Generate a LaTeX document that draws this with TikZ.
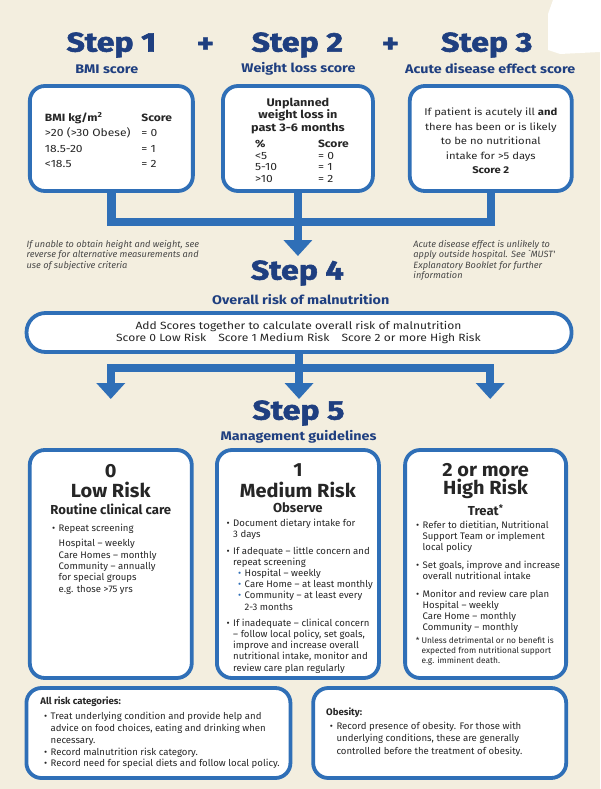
\documentclass[tikz,border=0pt]{standalone}
\usepackage{fontspec}
\setmainfont{Fira Sans}[FakeStretch=1.148]
\newfontfamily\cnd{Fira Sans}[FakeStretch=1.01]
\newfontfamily\rsk{Fira Sans}[FakeStretch=1.05]
\newfontfamily\hvy{Fira Sans}[FakeStretch=1.19, BoldFeatures={FakeBold=2}]
\usetikzlibrary{arrows.meta}
\definecolor{bg}{HTML}{F3EEDF}
\definecolor{mblue}{HTML}{2F6FB7}
\definecolor{navy}{HTML}{1F3F80}
\definecolor{txt}{HTML}{262626}
\pgfdeclarelayer{bottom}
\pgfdeclarelayer{background}
\pgfsetlayers{bottom,background,main}
\tikzset{
  steptitle/.style={font=\hvy\bfseries\fontsize{27}{27}\selectfont, text=navy, inner sep=0pt},
  stepsub/.style={font=\bfseries\fontsize{12.5}{13}\selectfont, text=navy, inner sep=0pt},
  rbox/.style={draw=mblue, line width=3.8pt, fill=white, rounded corners=15pt, inner sep=0pt},
  pillbox/.style={draw=mblue, line width=3.8pt, fill=white, rounded corners=19pt, inner sep=0pt},
  bus/.style={draw=mblue, line width=8.5pt, line join=miter},
  busarrow/.style={bus, -{Triangle[width=28pt,length=16pt]}},
  body/.style={text=txt, inner sep=0pt, align=left},
  note/.style={text=txt!85, inner sep=0pt, align=left, font=\cnd\itshape\fontsize{9.1}{10.4}\selectfont},
  risknum/.style={font=\rsk\bfseries\fontsize{19}{19}\selectfont, text=txt, inner sep=0pt},
  risksub/.style={font=\cnd\bfseries\fontsize{13}{13}\selectfont, text=txt, inner sep=0pt},
}
\newcommand{\bul}{\llap{\textbullet\hspace{3.5pt}}}
\newcommand{\sbul}{\hspace{11.5pt}\llap{\textcolor{mblue}{\textbullet}\hspace{3.5pt}}}
\begin{document}
\begin{tikzpicture}[x=1.148pt,y=-1pt]
\begin{pgfonlayer}{bottom}
\fill[bg] (0pt,0pt) rectangle (600pt,-789pt);
\end{pgfonlayer}
\useasboundingbox (0pt,0pt) rectangle (600pt,-789pt);
\fill[white] (553pt,0pt) -- (600pt,0pt) -- (600pt,-52pt) -- (560pt,-54pt) -- (548pt,-50pt) -- (548pt,-14pt) -- cycle;

% headings
\node[steptitle] (s1) at (97,45) {Step 1};
\node[steptitle] (p1) at (179,45) {+};
\node[steptitle] (s2) at (259,45) {Step 2};
\node[steptitle] (p2) at (340,45) {+};
\node[steptitle] (s3) at (424,45) {Step 3};
\node[stepsub] (s1s) at (93,69) {BMI score};
\node[stepsub] (s2s) at (260,69) {Weight loss score};
\node[stepsub] (s3s) at (427,69) {Acute disease effect score};

% step 1-3 boxes
\node[rbox, minimum width=163pt, minimum height=105pt] (b1) at (97,138.5) {};
\node[rbox, minimum width=150pt, minimum height=105pt] (b2) at (259.5,138.5) {};
\node[rbox, minimum width=162pt, minimum height=105pt] (b3) at (427.5,138.5) {};

\node[body, anchor=north west, font=\fontsize{10.5}{15.5}\selectfont] (b1t) at (39,110)
 {\begin{tabular}{@{}p{96.4pt}@{}l@{}}
  \textbf{BMI kg/m\textsuperscript{2}} & \textbf{Score}\\
  >20 (>30 Obese) & = 0\\
  18.5-20 & = 1\\
  <18.5 & = 2
  \end{tabular}};
\node[body, align=center, font=\bfseries\fontsize{11}{12.5}\selectfont] (b2h) at (259.5,116)
 {Unplanned\\weight loss in\\past 3-6 months};
\node[body, anchor=north west, font=\fontsize{10.5}{11.7}\selectfont] (b2t) at (222,139)
 {\begin{tabular}{@{}p{63pt}@{}l@{}}
  \textbf{\%} & \textbf{Score}\\
  <5 & = 0\\
  5-10 & = 1\\
  >10 & = 2
  \end{tabular}};
\node[body, align=center, font=\fontsize{9.8}{14.5}\selectfont] (b3t) at (427.5,141)
 {If patient is acutely ill \textbf{and}\\there has been or is likely\\to be no nutritional\\intake for >5 days\\\textbf{Score 2}};

% notes
\node[note, anchor=north west] (n1) at (23,240)
 {If unable to obtain height and weight, see\\reverse for alternative measurements and\\use of subjective criteria};
\node[note, anchor=north west] (n2) at (360,240)
 {Acute disease effect is unlikely to\\apply outside hospital. See `MUST'\\Explanatory Booklet for further\\information};

% step 4
\node[steptitle] (s4) at (259,273) {Step 4};
\node[stepsub] (s4s) at (262,300) {Overall risk of malnutrition};
\node[pillbox, minimum width=545pt, minimum height=39pt] (b4) at (260.5,332.5) {};
\node[body, align=center, font=\fontsize{10.5}{12}\selectfont] (b4t) at (260,333)
 {Add Scores together to calculate overall risk of malnutrition\\
  Score 0 Low Risk\hspace{12pt}Score 1 Medium Risk\hspace{12pt}Score 2 or more High Risk};

% step 5
\node[steptitle] (s5) at (260,413) {Step 5};
\node[stepsub] (s5s) at (260,437) {Management guidelines};

\node[rbox, minimum width=162pt, minimum height=228pt] (bA) at (96.5,564) {};
\node[rbox, minimum width=162pt, minimum height=228pt] (bB) at (259.5,564) {};
\node[rbox, minimum width=161pt, minimum height=228pt] (bC) at (423,564) {};

\node[risknum] (a0) at (96.5,471) {0};
\node[risknum] (a1) at (96.5,490) {Low Risk};
\node[risksub] (a2) at (96.5,509) {Routine clinical care};
\node[body, anchor=north west, font=\cnd\fontsize{9.5}{11.3}\selectfont] (at) at (51,524)
 {\bul Repeat screening\\[4pt]
  Hospital – weekly\\Care Homes – monthly\\Community – annually\\for special groups\\e.g. those >75 yrs};

\node[risknum] (bb0) at (259.5,470) {1};
\node[risknum] (bb1) at (259.5,490) {Medium Risk};
\node[risksub] (bb2) at (259.5,508) {Observe};
\node[body, anchor=north west, font=\cnd\fontsize{9.5}{11.2}\selectfont] (bt) at (203,519)
 {\bul Document dietary intake for\\3 days\\[5pt]
  \bul If adequate – little concern and\\repeat screening\\
  \sbul Hospital – weekly\\
  \sbul Care Home – at least monthly\\
  \sbul Community – at least every\\
  \hspace{11.5pt}2-3 months\\[5pt]
  \bul If inadequate – clinical concern\\– follow local policy, set goals,\\improve and increase overall\\nutritional intake, monitor and\\review care plan regularly};

\node[risknum] (c0) at (423,470) {2 or more};
\node[risknum] (c1) at (423,489) {High Risk};
\node[risksub] (c2) at (423,510) {Treat\textsuperscript{*}};
\node[body, anchor=north west, font=\cnd\fontsize{9.5}{11}\selectfont] (ct) at (368,521)
 {\bul Refer to dietitian, Nutritional\\Support Team or implement\\local policy\\[7pt]
  \bul Set goals, improve and increase\\overall nutritional intake\\[7pt]
  \bul Monitor and review care plan\\Hospital – weekly\\Care Home – monthly\\Community – monthly};
\node[body, anchor=north west, font=\cnd\fontsize{8.3}{10}\selectfont] (cf) at (367,637)
 {\llap{*\hspace{2pt}}Unless detrimental or no benefit is\\expected from nutritional support\\e.g. imminent death.};

% bottom boxes
\node[rbox, minimum width=264pt, minimum height=90pt] (bD) at (138,733) {};
\node[rbox, minimum width=253pt, minimum height=90pt] (bE) at (383,733) {};
\node[body, anchor=north west, font=\cnd\bfseries\fontsize{9.5}{12}\selectfont] (dh) at (35,697) {All risk categories:};
\node[body, anchor=north west, font=\cnd\fontsize{9.5}{11.8}\selectfont] (dt) at (44,712)
 {\bul Treat underlying condition and provide help and\\advice on food choices, eating and drinking when\\necessary.\\
  \bul Record malnutrition risk category.\\
  \bul Record need for special diets and follow local policy.};
\node[body, anchor=north west, font=\cnd\bfseries\fontsize{9.5}{12}\selectfont] (eh) at (284,708) {Obesity:};
\node[body, anchor=north west, font=\cnd\fontsize{9.5}{12.2}\selectfont] (et) at (293,722)
 {\bul Record presence of obesity. For those with\\underlying conditions, these are generally\\controlled before the treatment of obesity.};

% connectors
\coordinate (busL) at (97,222);
\coordinate (busR) at (427.5,222);
\coordinate (tip4) at (259.5,256);
\coordinate (m5) at (260.5,368);
\coordinate (tA) at (96.5,399);
\coordinate (tB) at (260.5,399);
\coordinate (tC) at (427,399);
\begin{pgfonlayer}{background}
\draw[bus] (b1.south) -- (busL) -- (busR) -- (b3.south);
\draw[busarrow] (b2.south) -- (tip4);
\draw[busarrow] (b4.south) -- (m5) -| (tA);
\draw[busarrow] (m5) -| (tC);
\draw[busarrow] (m5) -- (tB);
\end{pgfonlayer}
\end{tikzpicture}
\end{document}
